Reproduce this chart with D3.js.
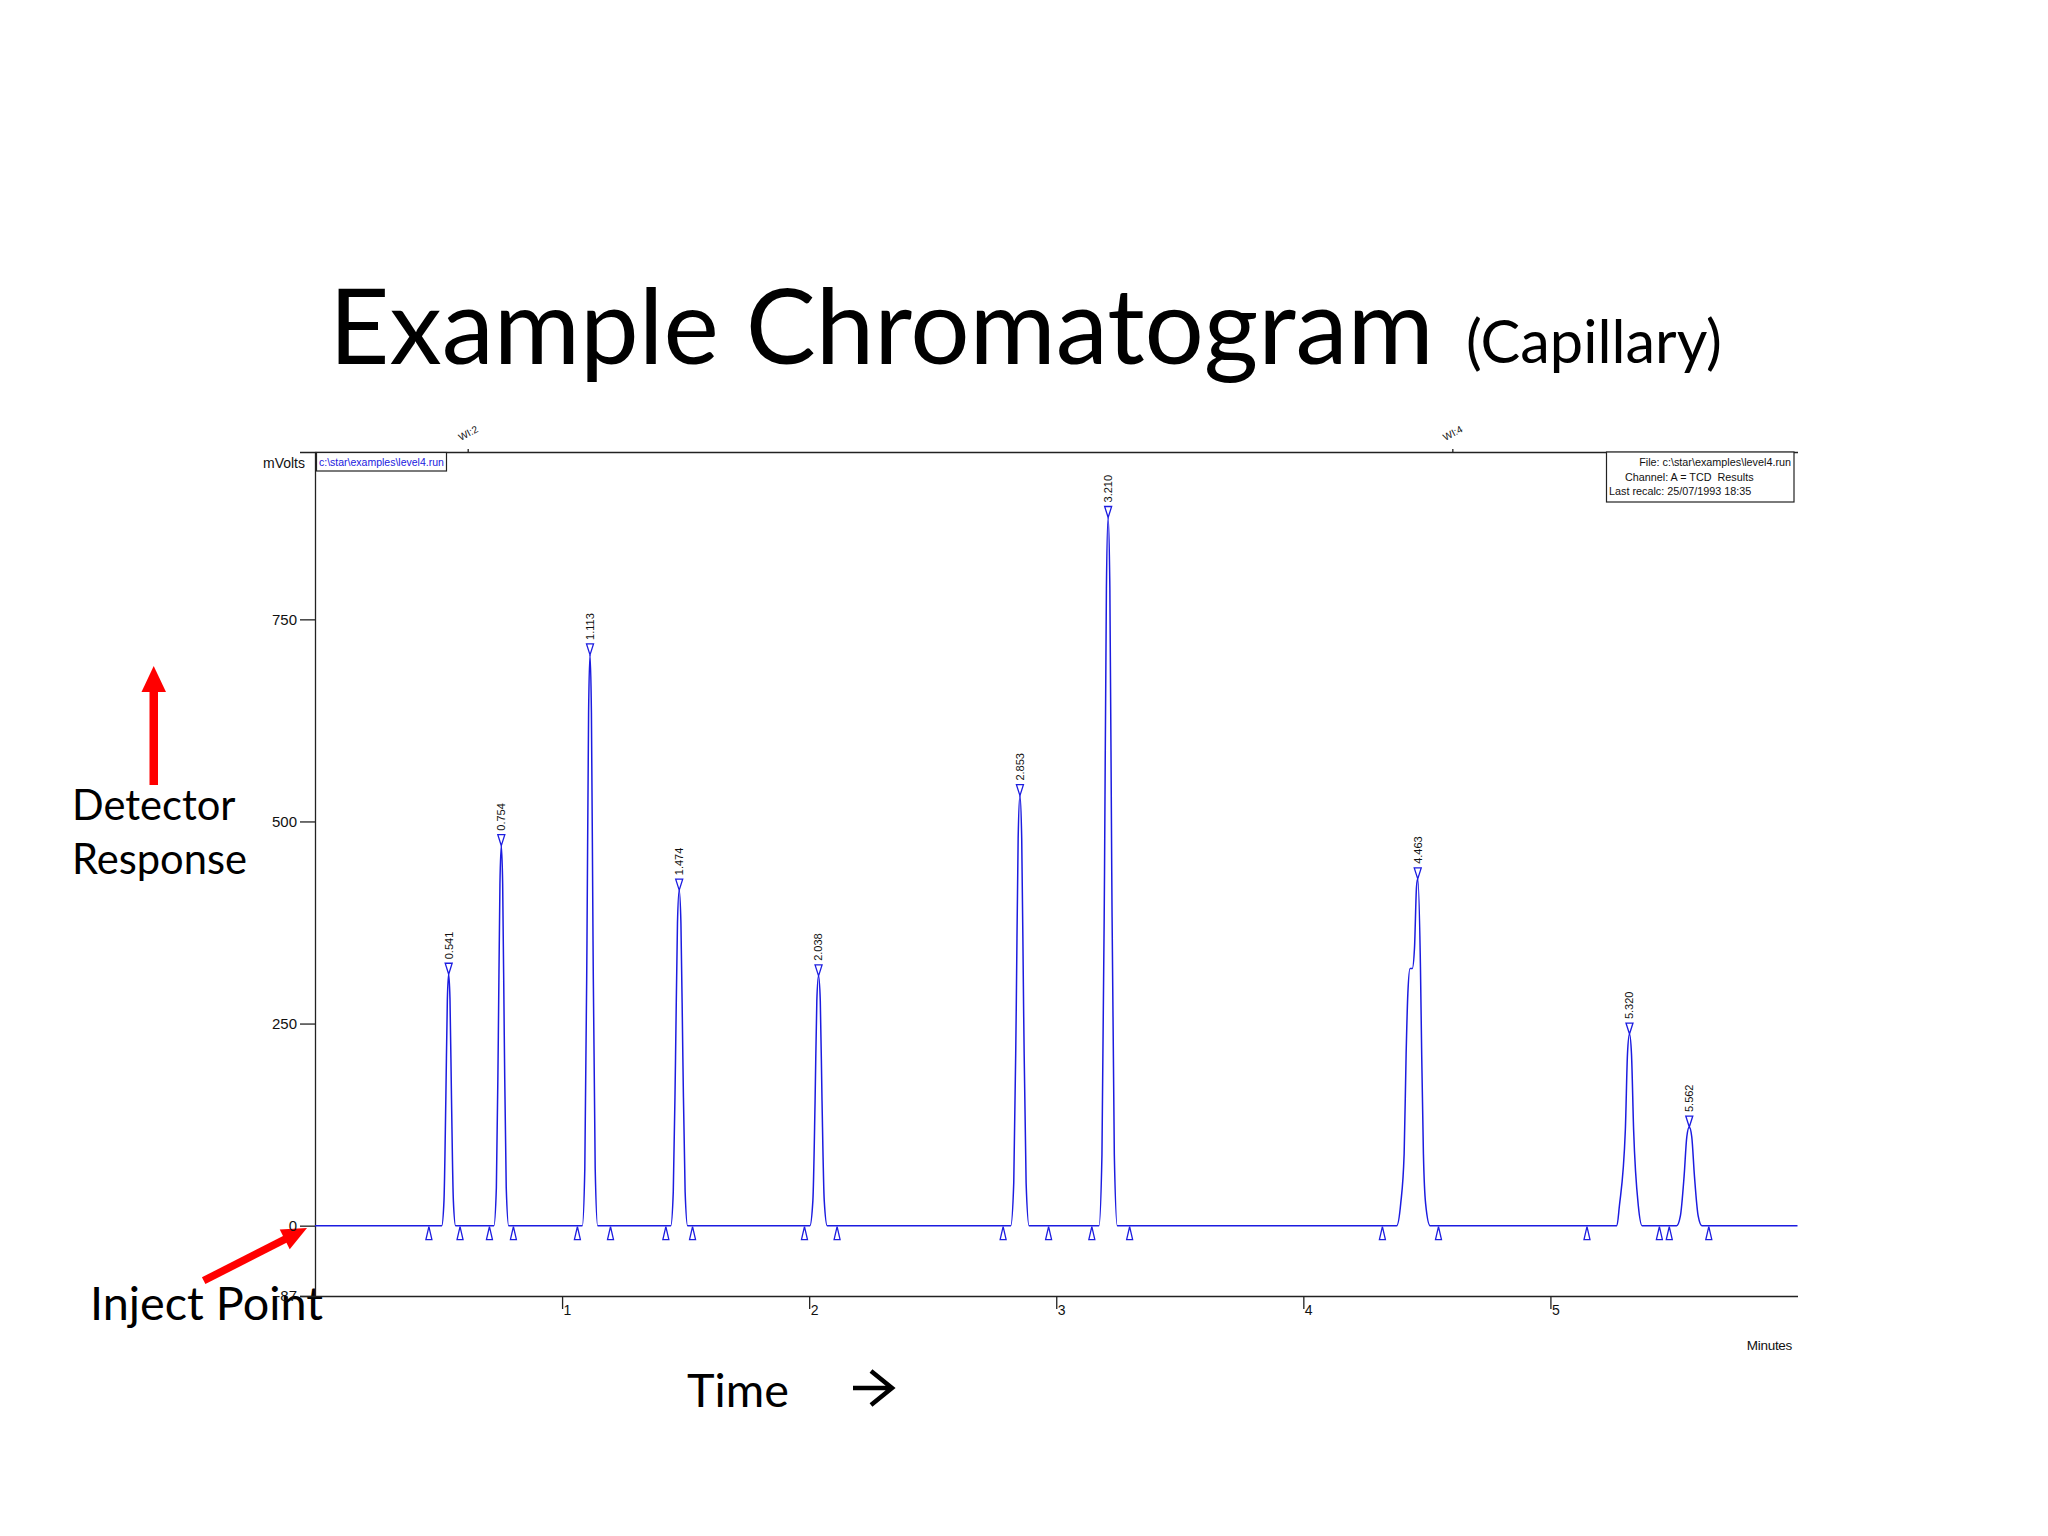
<!DOCTYPE html>
<html>
<head>
<meta charset="utf-8">
<title>Example Chromatogram</title>
<script src="https://cdn.jsdelivr.net/npm/d3@7"></script>
<style>
    body { margin: 0; background: #fff; }
    #chart { width: 2048px; height: 1536px; }
    .axis text, .plot-text { font-family: "Liberation Sans", Arial, sans-serif; fill: #111; }
    .axis path, .axis line { stroke: #222; stroke-width: 1.3px; }
    .slide-text { font-family: Lato, "Open Sans", sans-serif; fill: #000; }
</style>
</head>
<body>
<div id="chart"></div>
<script>

// retention times / heights (mVolts)
const peakTimes = [0.541, 0.754, 1.113, 1.474, 2.038, 2.853, 3.210, 4.463, 5.320, 5.562]
const peakHeights = [311, 470, 706, 415, 309, 532, 876, 429, 237, 122]
const peakLabels = ["0.541", "0.754", "1.113", "1.474", "2.038", "2.853", "3.210", "4.463", "5.320", "5.562"]

// integration start / end markers on the baseline (minutes)
const baseMarks = [0.461, 0.587, 0.706, 0.803, 1.062, 1.196, 1.420, 1.528, 1.981, 2.113,
    2.785, 2.969, 3.144, 3.297, 4.320, 4.547, 5.148, 5.441, 5.481, 5.641]

const xTicks = [1, 2, 3, 4, 5]
const yTicks = [-87, 0, 250, 500, 750]
const wiTimes = [0.618, 4.603]
const wiLabels = ["WI:2", "WI:4"]

// detector trace [minutes, mVolts]
const trace = [
    [0, 0],
    [0.513, 0], [0.522, 31], [0.5295, 156], [0.5357, 280], [0.541, 311], [0.5463, 280], [0.5525, 156], [0.560, 31], [0.569, 0],
    [0.724, 0], [0.734, 47], [0.742, 235], [0.7485, 423], [0.754, 470], [0.7595, 423], [0.766, 235], [0.774, 47], [0.784, 0],
    [1.082, 0], [1.092, 71], [1.1008, 353], [1.1073, 635], [1.113, 706], [1.1187, 635], [1.1252, 353], [1.134, 71], [1.144, 0],
    [1.440, 0], [1.450, 42], [1.4592, 208], [1.467, 374], [1.474, 415], [1.481, 374], [1.4888, 208], [1.498, 42], [1.508, 0],
    [2.003, 0], [2.015, 31], [2.024, 155], [2.031, 278], [2.038, 309], [2.045, 278], [2.052, 155], [2.061, 31], [2.073, 0],
    [2.816, 0], [2.828, 53], [2.838, 266], [2.8458, 479], [2.853, 532], [2.8602, 479], [2.868, 266], [2.878, 53], [2.890, 0],
    [3.173, 0], [3.185, 88], [3.1954, 438], [3.203, 788], [3.210, 876], [3.217, 788], [3.2246, 438], [3.235, 88], [3.247, 0],
    [4.378, 0], [4.394, 27], [4.408, 89], [4.416, 212], [4.423, 287], [4.432, 318], [4.441, 318], [4.450, 344], [4.458, 419],
    [4.463, 429], [4.474, 320], [4.479, 212], [4.486, 89], [4.495, 27], [4.513, 0],
    [5.269, 0], [5.279, 24], [5.3032, 118], [5.312, 213], [5.320, 237], [5.328, 213], [5.3368, 118], [5.356, 24], [5.371, 0],
    [5.511, 0], [5.526, 12], [5.541, 61], [5.552, 110], [5.562, 122], [5.572, 110], [5.583, 61], [5.598, 12], [5.613, 0],
    [6, 0]
]

const traceColor = "#1c1ce0"

class Chromatogram {

    constructor(_parentElement) {
        this.parentElement = _parentElement
        this.initVis()
    }

    initVis() {
        let vis = this

        vis.width = 2048
        vis.height = 1536
        vis.plot = {left: 315, right: 1797.5, top: 452, bottom: 1296}

        vis.svg = d3.select("#" + vis.parentElement).append("svg")
            .attr("width", vis.width)
            .attr("height", vis.height)

        vis.x = d3.scaleLinear()
            .domain([0, 6])
            .range([vis.plot.left, vis.plot.right])

        vis.y = d3.scaleLinear()
            .domain([-87, 957])
            .range([vis.plot.bottom, vis.plot.top])

        vis.line = d3.line()
            .x(d => vis.x(d[0]))
            .y(d => vis.y(d[1]))
            .curve(d3.curveMonotoneX)

        vis.drawSlide()
        vis.drawAxes()
        vis.drawTrace()
    }

    // shrink / grow a text so it covers the given width
    fitText(sel, targetWidth) {
        let size = parseFloat(sel.attr("font-size"))
        let w = sel.node().getComputedTextLength()
        sel.attr("font-size", size * targetWidth / w)
    }

    drawSlide() {
        let vis = this

        let title = vis.svg.append("text")
            .attr("class", "slide-text")
            .attr("x", 329).attr("y", 364)
            .attr("font-size", 100)
            .text("Example Chromatogram")
        vis.fitText(title, 1105)

        let sub = vis.svg.append("text")
            .attr("class", "slide-text")
            .attr("x", 1466).attr("y", 363)
            .attr("font-size", 50)
            .text("(Capillary)")
        vis.fitText(sub, 256)

        vis.svg.append("text")
            .attr("class", "slide-text")
            .attr("x", 72).attr("y", 820)
            .attr("font-size", 40)
            .attr("id", "det-text")
            .text("Detector")

        let resp = vis.svg.append("text")
            .attr("class", "slide-text")
            .attr("x", 72).attr("y", 874)
            .attr("font-size", 40)
            .text("Response")
        vis.fitText(resp, 175)
        vis.svg.select("#det-text").attr("font-size", resp.attr("font-size"))

        let inj = vis.svg.append("text")
            .attr("class", "slide-text")
            .attr("x", 90).attr("y", 1320)
            .attr("font-size", 40)
            .text("Inject Point")
        vis.fitText(inj, 233)

        let time = vis.svg.append("text")
            .attr("class", "slide-text")
            .attr("x", 687).attr("y", 1407)
            .attr("font-size", inj.attr("font-size"))
            .text("Time")

        // time arrow
        vis.svg.append("path")
            .attr("d", "M853,1388 H892 M871,1371 L892,1388 L871,1405")
            .attr("fill", "none")
            .attr("stroke", "#000")
            .attr("stroke-width", 4.5)

        // red arrow up (detector response)
        vis.svg.append("rect")
            .attr("x", 149.5).attr("y", 690)
            .attr("width", 8.5).attr("height", 95)
            .attr("fill", "#ff0000")
        vis.svg.append("path")
            .attr("d", "M153.7,666 L166,692 L141.5,692 Z")
            .attr("fill", "#ff0000")

        // red arrow to inject point
        let g = vis.svg.append("g")
            .attr("transform", "translate(307,1228) rotate(" + (Math.atan2(-52, 102) * 180 / Math.PI) + ")")
        g.append("rect")
            .attr("x", -116).attr("y", -3.8)
            .attr("width", 96).attr("height", 7.6)
            .attr("fill", "#ff0000")
        g.append("path")
            .attr("d", "M0,0 L-25,-11 L-25,11 Z")
            .attr("fill", "#ff0000")
    }

    drawAxes() {
        let vis = this

        vis.yAxis = d3.axisLeft(vis.y)
            .tickValues(yTicks)
            .tickSize(15)
            .tickSizeOuter(15)
            .tickPadding(3)
            .tickFormat(d => String(d))

        vis.svg.append("g")
            .attr("class", "y-axis axis")
            .attr("transform", `translate(${vis.plot.left}, 0)`)
            .call(vis.yAxis)
            .call(g => g.selectAll("text").attr("font-size", 15).attr("font-family", null))

        vis.xAxis = d3.axisBottom(vis.x)
            .tickValues(xTicks)
            .tickSize(13)
            .tickSizeOuter(0)
            .tickFormat(d => String(d))

        vis.svg.append("g")
            .attr("class", "x-axis axis")
            .attr("transform", `translate(0, ${vis.plot.bottom})`)
            .call(vis.xAxis)
            .call(g => g.selectAll("text")
                .attr("font-size", 14)
                .attr("font-family", null)
                .attr("text-anchor", "start")
                .attr("x", 1)
                .attr("y", 19)
                .attr("dy", 0))

        vis.topAxis = d3.axisTop(vis.x)
            .tickValues(wiTimes)
            .tickSize(3)
            .tickSizeOuter(0)
            .tickFormat("")

        vis.svg.append("g")
            .attr("class", "top-axis axis")
            .attr("transform", `translate(0, ${vis.plot.top})`)
            .call(vis.topAxis)

        vis.svg.selectAll(".wi-label")
            .data(wiTimes)
            .enter()
            .append("text")
            .attr("class", "wi-label plot-text")
            .attr("transform", d => `translate(${vis.x(d) - 7}, 441) rotate(-28)`)
            .attr("font-size", 10)
            .text((d, i) => wiLabels[i])

        vis.svg.append("text")
            .attr("class", "plot-text")
            .attr("x", 305).attr("y", 468)
            .attr("text-anchor", "end")
            .attr("font-size", 14)
            .text("mVolts")

        vis.svg.append("text")
            .attr("class", "plot-text")
            .attr("x", 1792).attr("y", 1350)
            .attr("text-anchor", "end")
            .attr("font-size", 13.5)
            .attr("letter-spacing", -0.3)
            .text("Minutes")

        // file label, top left
        vis.svg.append("rect")
            .attr("x", 316.5).attr("y", 452.5)
            .attr("width", 130).attr("height", 18.5)
            .attr("fill", "#fff")
            .attr("stroke", "#222")
            .attr("stroke-width", 1.2)
        vis.svg.append("text")
            .attr("class", "plot-text")
            .attr("x", 319).attr("y", 466)
            .attr("font-size", 10.5)
            .style("fill", "#2020e0")
            .text("c:\\star\\examples\\level4.run")

        // run info box, top right
        vis.svg.append("rect")
            .attr("x", 1606.5).attr("y", 452)
            .attr("width", 187.5).attr("height", 50)
            .attr("fill", "#fff")
            .attr("stroke", "#222")
            .attr("stroke-width", 1.2)
        vis.svg.append("text")
            .attr("class", "plot-text")
            .attr("x", 1791).attr("y", 466)
            .attr("text-anchor", "end")
            .attr("font-size", 10.8)
            .text("File: c:\\star\\examples\\level4.run")
        vis.svg.append("text")
            .attr("class", "plot-text")
            .attr("x", 1625).attr("y", 480.5)
            .attr("font-size", 10.8)
            .style("white-space", "pre")
            .text("Channel: A = TCD  Results")
        vis.svg.append("text")
            .attr("class", "plot-text")
            .attr("x", 1609).attr("y", 495)
            .attr("font-size", 10.8)
            .text("Last recalc: 25/07/1993 18:35")
    }

    drawTrace() {
        let vis = this

        vis.svg.append("path")
            .datum(trace)
            .attr("fill", "none")
            .attr("stroke", traceColor)
            .attr("stroke-width", 1.5)
            .attr("d", vis.line)

        // baseline markers
        vis.svg.selectAll(".base-mark")
            .data(baseMarks)
            .enter()
            .append("path")
            .attr("class", "base-mark")
            .attr("transform", d => `translate(${vis.x(d)}, ${vis.y(0) + 1})`)
            .attr("d", "M0,0 L3,13 L-3,13 Z")
            .attr("fill", "#fff")
            .attr("stroke", traceColor)
            .attr("stroke-width", 1.3)

        // apex markers
        vis.svg.selectAll(".apex-mark")
            .data(peakTimes)
            .enter()
            .append("path")
            .attr("class", "apex-mark")
            .attr("transform", (d, i) => `translate(${vis.x(d)}, ${vis.y(peakHeights[i])})`)
            .attr("d", "M0,0 L-3.5,-11 L3.5,-11 Z")
            .attr("fill", "#fff")
            .attr("stroke", traceColor)
            .attr("stroke-width", 1.3)

        vis.svg.selectAll(".peak-label")
            .data(peakTimes)
            .enter()
            .append("text")
            .attr("class", "peak-label plot-text")
            .attr("transform", (d, i) => `translate(${vis.x(d)}, ${vis.y(peakHeights[i]) - 15}) rotate(-90)`)
            .attr("dy", "0.35em")
            .attr("font-size", 11)
            .text((d, i) => peakLabels[i])
    }
}

new Chromatogram("chart")

</script>
</body>
</html>
